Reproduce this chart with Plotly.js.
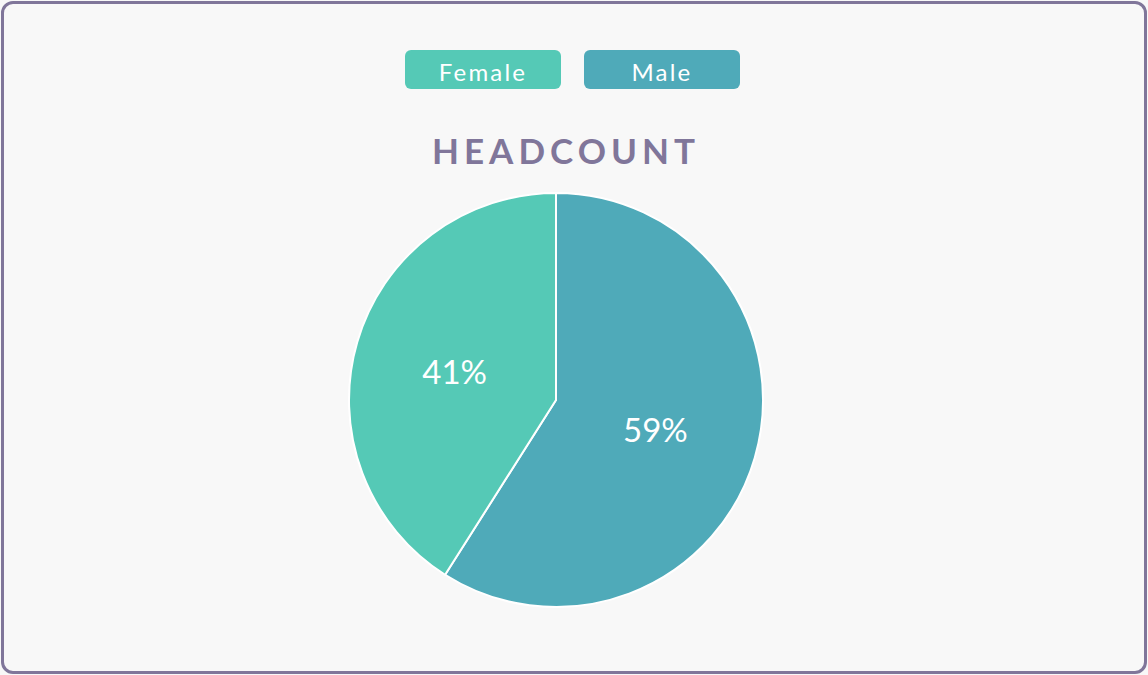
<!DOCTYPE html>
<html>
<head>
<meta charset="utf-8">
<script src="https://cdn.plot.ly/plotly-3.0.1.min.js"></script>
<style>
  html, body { margin: 0; padding: 0; background: #f8f8f8; }
  #frame {
    position: absolute; left: 1px; top: 1px; width: 1140px; height: 667px;
    border: 3px solid #80769a; border-radius: 12px; background: #f8f8f8;
  }
  #chart { position: absolute; left: 0; top: 0; width: 1148px; height: 675px; }
  .lg {
    position: absolute; top: 50px; width: 156px; height: 39px; border-radius: 6px;
    color: #fff; font-family: Lato, sans-serif; font-size: 24px; letter-spacing: 2.2px;
    text-align: center; line-height: 43px;
  }
  #chart .gtitle { letter-spacing: 5px; }
</style>
</head>
<body>
<div id="frame"></div>
<div id="chart"></div>
<div id="legend"></div>
<script>
var labels = ['Female', 'Male'];
var shares = [41, 59];
var colors = ['#55c9b6', '#4faab9'];
var legendLeft = [405, 584];

// custom button-like legend
var lg = document.getElementById('legend');
for (let i = 0; i < labels.length; i++) {
  var d = document.createElement('div');
  d.className = 'lg';
  d.style.left = legendLeft[i] + 'px';
  d.style.background = colors[i];
  d.textContent = labels[i];
  lg.appendChild(d);
}

// male slice starts at 12 o'clock and runs clockwise
var trace = {
  type: 'pie',
  labels: labels.slice().reverse(),
  values: shares.slice().reverse(),
  sort: false,
  direction: 'clockwise',
  rotation: 0,
  marker: {colors: colors.slice().reverse(), line: {color: '#ffffff', width: 2}},
  textinfo: 'percent',
  textposition: 'inside',
  insidetextfont: {family: 'Lato, sans-serif', size: 33, color: '#ffffff'},
  hoverinfo: 'label+percent'
};

var layout = {
  width: 1148,
  height: 675,
  title: {
    text: 'HEADCOUNT',
    font: {family: 'Lato, sans-serif', size: 35, color: '#80769a', weight: 700},
    x: 0.493, xanchor: 'center',
    y: 1 - 152 / 675, yanchor: 'middle'
  },
  showlegend: false,
  paper_bgcolor: 'rgba(0,0,0,0)',
  plot_bgcolor: 'rgba(0,0,0,0)',
  margin: {t: 193, b: 68, l: 349, r: 385}
};

Plotly.newPlot('chart', [trace], layout, {displayModeBar: false, staticPlot: true});
</script>
</body>
</html>
